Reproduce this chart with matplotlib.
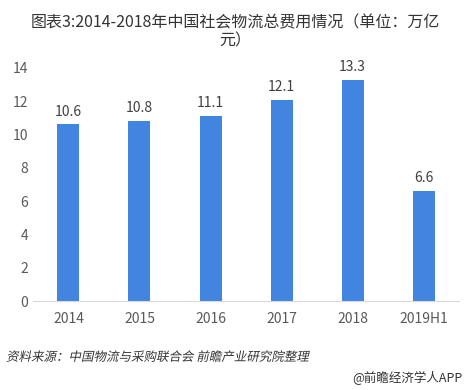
import numpy as np
import matplotlib.pyplot as plt
from matplotlib.textpath import TextPath
from matplotlib.patches import PathPatch
from matplotlib.font_manager import FontProperties
from matplotlib.transforms import Affine2D

plt.rcParams['font.family'] = ['Noto Sans CJK SC', 'DejaVu Sans']

years = ['2014', '2015', '2016', '2017', '2018', '2019H1']
costs = [10.6, 10.8, 11.1, 12.1, 13.3, 6.6]
yticks = [0, 2, 4, 6, 8, 10, 12, 14]

fig = plt.figure(figsize=(4.7, 3.9), dpi=100)
ax = fig.add_axes([0.070, 0.228, 0.907, 0.598])

x = np.arange(len(years))
bars = ax.bar(x, costs, width=0.31, color='#4285E0')
for xi, v in zip(x, costs):
    ax.text(xi, v + 0.35, f'{v:.1f}', ha='center', va='bottom', fontsize=10, color='#404040')

ax.set_xlim(-0.5, len(years) - 0.5)
ax.set_ylim(0, 14)
ax.set_yticks(yticks)
ax.set_xticks(x)
ax.set_xticklabels(years)
ax.tick_params(axis='both', length=0, labelsize=10, labelcolor='#595959')
ax.tick_params(axis='x', pad=8)
for s in ['top', 'right', 'left']:
    ax.spines[s].set_visible(False)
ax.spines['bottom'].set_color('#d9d9d9')

fig.text(0.5, 0.918, '图表3:2014-2018年中国社会物流总费用情况（单位：万亿\n元）',
         ha='center', va='center', fontsize=11.5, color='#333333', linespacing=1.05)

# slanted source note (CJK font has no italic face)
tp = TextPath((0, 0), '资料来源：中国物流与采购联合会 前瞻产业研究院整理', size=9,
              prop=FontProperties(family='Noto Sans CJK SC'))
tr = Affine2D().skew_deg(12, 0).scale(100 / 72).translate(6, 390 * 0.085 - 4)
fig.patches.append(PathPatch(tp, transform=tr, color='#333333', lw=0, figure=fig))

fig.text(0.985, 0.03, '@前瞻经济学人APP', ha='right', va='center', fontsize=9, color='#333333')

fig.savefig('out.png', dpi=100)
